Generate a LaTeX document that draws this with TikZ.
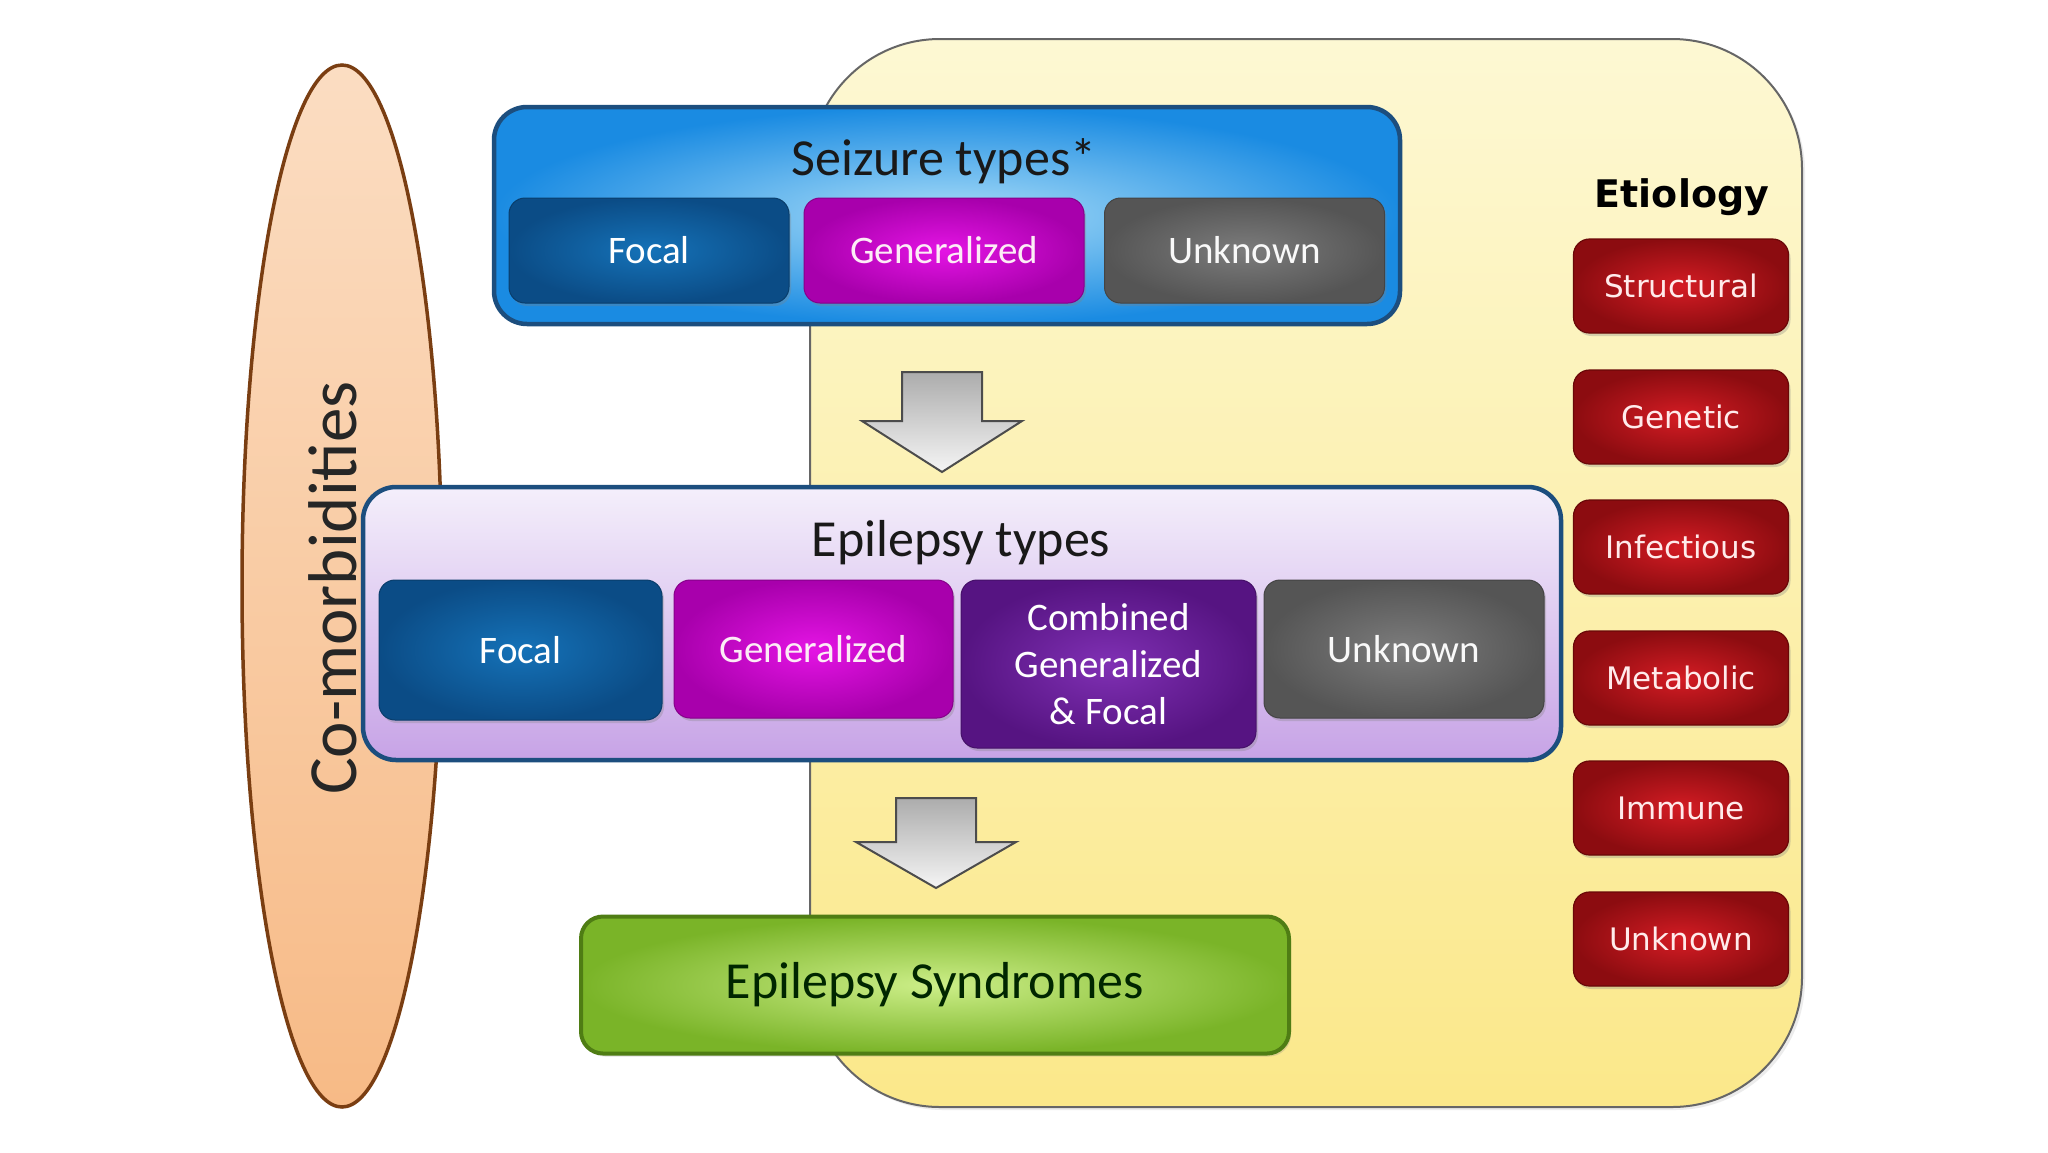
\documentclass[tikz,border=0pt]{standalone}
\usepackage{fontspec}
\setmainfont{Carlito}
\newfontfamily\dvs{DejaVu Sans}
\usetikzlibrary{shapes.geometric,shadows,calc}
\definecolor{yelT}{HTML}{FDF8D3}
\definecolor{yelB}{HTML}{FBE88A}
\definecolor{comoT}{HTML}{FBDDC2}
\definecolor{comoB}{HTML}{F7BA86}
\definecolor{comoE}{HTML}{7A3E12}
\definecolor{navy}{HTML}{1C4E7E}
\definecolor{seizIn}{HTML}{A9DDF8}
\definecolor{seizOut}{HTML}{1A8BE2}
\definecolor{lavT}{HTML}{F4EFFB}
\definecolor{lavB}{HTML}{C7A3E6}
\definecolor{focIn}{HTML}{1572B8}
\definecolor{focOut}{HTML}{0B4C86}
\definecolor{genIn}{HTML}{E414E4}
\definecolor{genOut}{HTML}{A800AC}
\definecolor{unkIn}{HTML}{7C7C7C}
\definecolor{unkOut}{HTML}{555555}
\definecolor{comIn}{HTML}{8030B4}
\definecolor{comOut}{HTML}{561482}
\definecolor{grnIn}{HTML}{CCEE88}
\definecolor{grnOut}{HTML}{7AB428}
\definecolor{grnE}{HTML}{4F7D14}
\definecolor{redIn}{HTML}{D41C24}
\definecolor{redOut}{HTML}{8C0C10}
\definecolor{redE}{HTML}{6A0808}
\begin{document}
\begin{tikzpicture}[x=1pt,y=-1pt,
  inbox/.style={rounded corners=16pt, minimum height=138pt, minimum width=280pt,
    inner sep=0pt, text=white, font=\fontsize{39}{47}\selectfont, align=center,
    line width=1pt, drop shadow={opacity=0.3,shadow xshift=2pt,shadow yshift=-3pt}},
  focalbox/.style={inbox, draw=focOut!80!black, inner color=focIn, outer color=focOut},
  genbox/.style={inbox, draw=genOut!80!black, inner color=genIn, outer color=genOut, text=white!92!magenta},
  unkbox/.style={inbox, draw=unkOut!80!black, inner color=unkIn, outer color=unkOut, text=white!95!gray},
  combox/.style={inbox, draw=comOut!80!black, inner color=comIn, outer color=comOut},
  titletext/.style={font=\fontsize{52}{60}\selectfont, text=black!90},
  redbox/.style={rounded corners=16pt, minimum width=215pt, minimum height=94pt, inner sep=0pt,
    draw=redE, line width=1.2pt, inner color=redIn, outer color=redOut, text=white!92!red,
    font=\dvs\fontsize{31}{36}\selectfont, drop shadow={opacity=0.3,shadow xshift=2pt,shadow yshift=-3pt}},
  blockarrow/.style={draw=black!70, line width=2pt, line join=miter, top color=gray!65, bottom color=gray!8}]
\useasboundingbox (0,0) rectangle (2048,1152);
\fill[white] (0,0) rectangle (2048,1152);

% etiology background
\node[draw=black!60, line width=2pt, rounded corners=130pt, minimum width=992pt, minimum height=1068pt,
  top color=yelT, bottom color=yelB, inner sep=0pt,
  drop shadow={opacity=0.15,shadow xshift=3pt,shadow yshift=-3pt}] (etiobg) at (1306,573) {};

% co-morbidities ellipse
\node[ellipse, draw=comoE, line width=3.5pt, minimum width=200pt, minimum height=1042pt,
  top color=comoT, bottom color=comoB, inner sep=0pt] (como) at (342,586) {};
\node[rotate=90, font=\fontsize{69}{80}\selectfont, text=black!85] (comotxt) at (333,588) {Co-morbidities};

% seizure types
\node[draw=navy, line width=4.5pt, rounded corners=33pt, minimum width=906pt, minimum height=217pt,
  inner color=seizIn, outer color=seizOut, inner sep=0pt] (seiz) at (947,215.5) {};
\node[titletext] (seiztitle) at (944,161) {Seizure types*};
\node[focalbox, minimum height=105pt] (sfocal) at (649,250.5) {Focal};
\node[genbox, minimum height=105pt] (sgen) at (944,250.5) {Generalized};
\node[unkbox, minimum height=105pt] (sunk) at (1244.5,250.5) {Unknown};

% epilepsy types
\node[draw=navy, line width=4.5pt, rounded corners=33pt, minimum width=1198pt, minimum height=273pt,
  top color=lavT, bottom color=lavB, inner sep=0pt] (epi) at (962,623.5) {};
\node[titletext] (epititle) at (961,543) {Epilepsy types};
\node[focalbox, minimum width=283pt, minimum height=140pt] (efocal) at (520.5,650) {Focal};
\node[genbox, minimum width=279pt] (egen) at (813.5,649) {Generalized};
\node[combox, minimum width=295pt, minimum height=168pt] (ecomb) at (1108.5,664) {Combined\\Generalized\\\&\ Focal};
\node[unkbox] (eunk) at (1404,649) {Unknown};

% arrows
\coordinate (a1) at (942,372);
\draw[blockarrow] (a1) ++(-40,0) -- ++(80,0) -- ++(0,49) -- ++(40,0) -- ++(-80,51) -- ++(-80,-51) -- ++(40,0) -- cycle;
\coordinate (a2) at (936,798);
\draw[blockarrow] (a2) ++(-40,0) -- ++(80,0) -- ++(0,44) -- ++(40,0) -- ++(-80,46) -- ++(-80,-46) -- ++(40,0) -- cycle;

% syndromes
\node[draw=grnE, line width=4pt, rounded corners=22pt, minimum width=708pt, minimum height=137pt,
  inner color=grnIn, outer color=grnOut, inner sep=0pt, font=\fontsize{52}{60}\selectfont, text=black!85!green,
  drop shadow={opacity=0.25,shadow xshift=2pt,shadow yshift=-3pt}] (synd) at (935,985) {Epilepsy Syndromes};

% etiology
\node[font=\dvs\bfseries\fontsize{38}{44}\selectfont] (etiotitle) at (1682,197) {Etiology};
\node[redbox] (e1) at (1681,286) {Structural};
\node[redbox] (e2) at (1681,417) {Genetic};
\node[redbox] (e3) at (1681,547) {Infectious};
\node[redbox] (e4) at (1681,678) {Metabolic};
\node[redbox] (e5) at (1681,808) {Immune};
\node[redbox] (e6) at (1681,939) {Unknown};
\end{tikzpicture}
\end{document}
